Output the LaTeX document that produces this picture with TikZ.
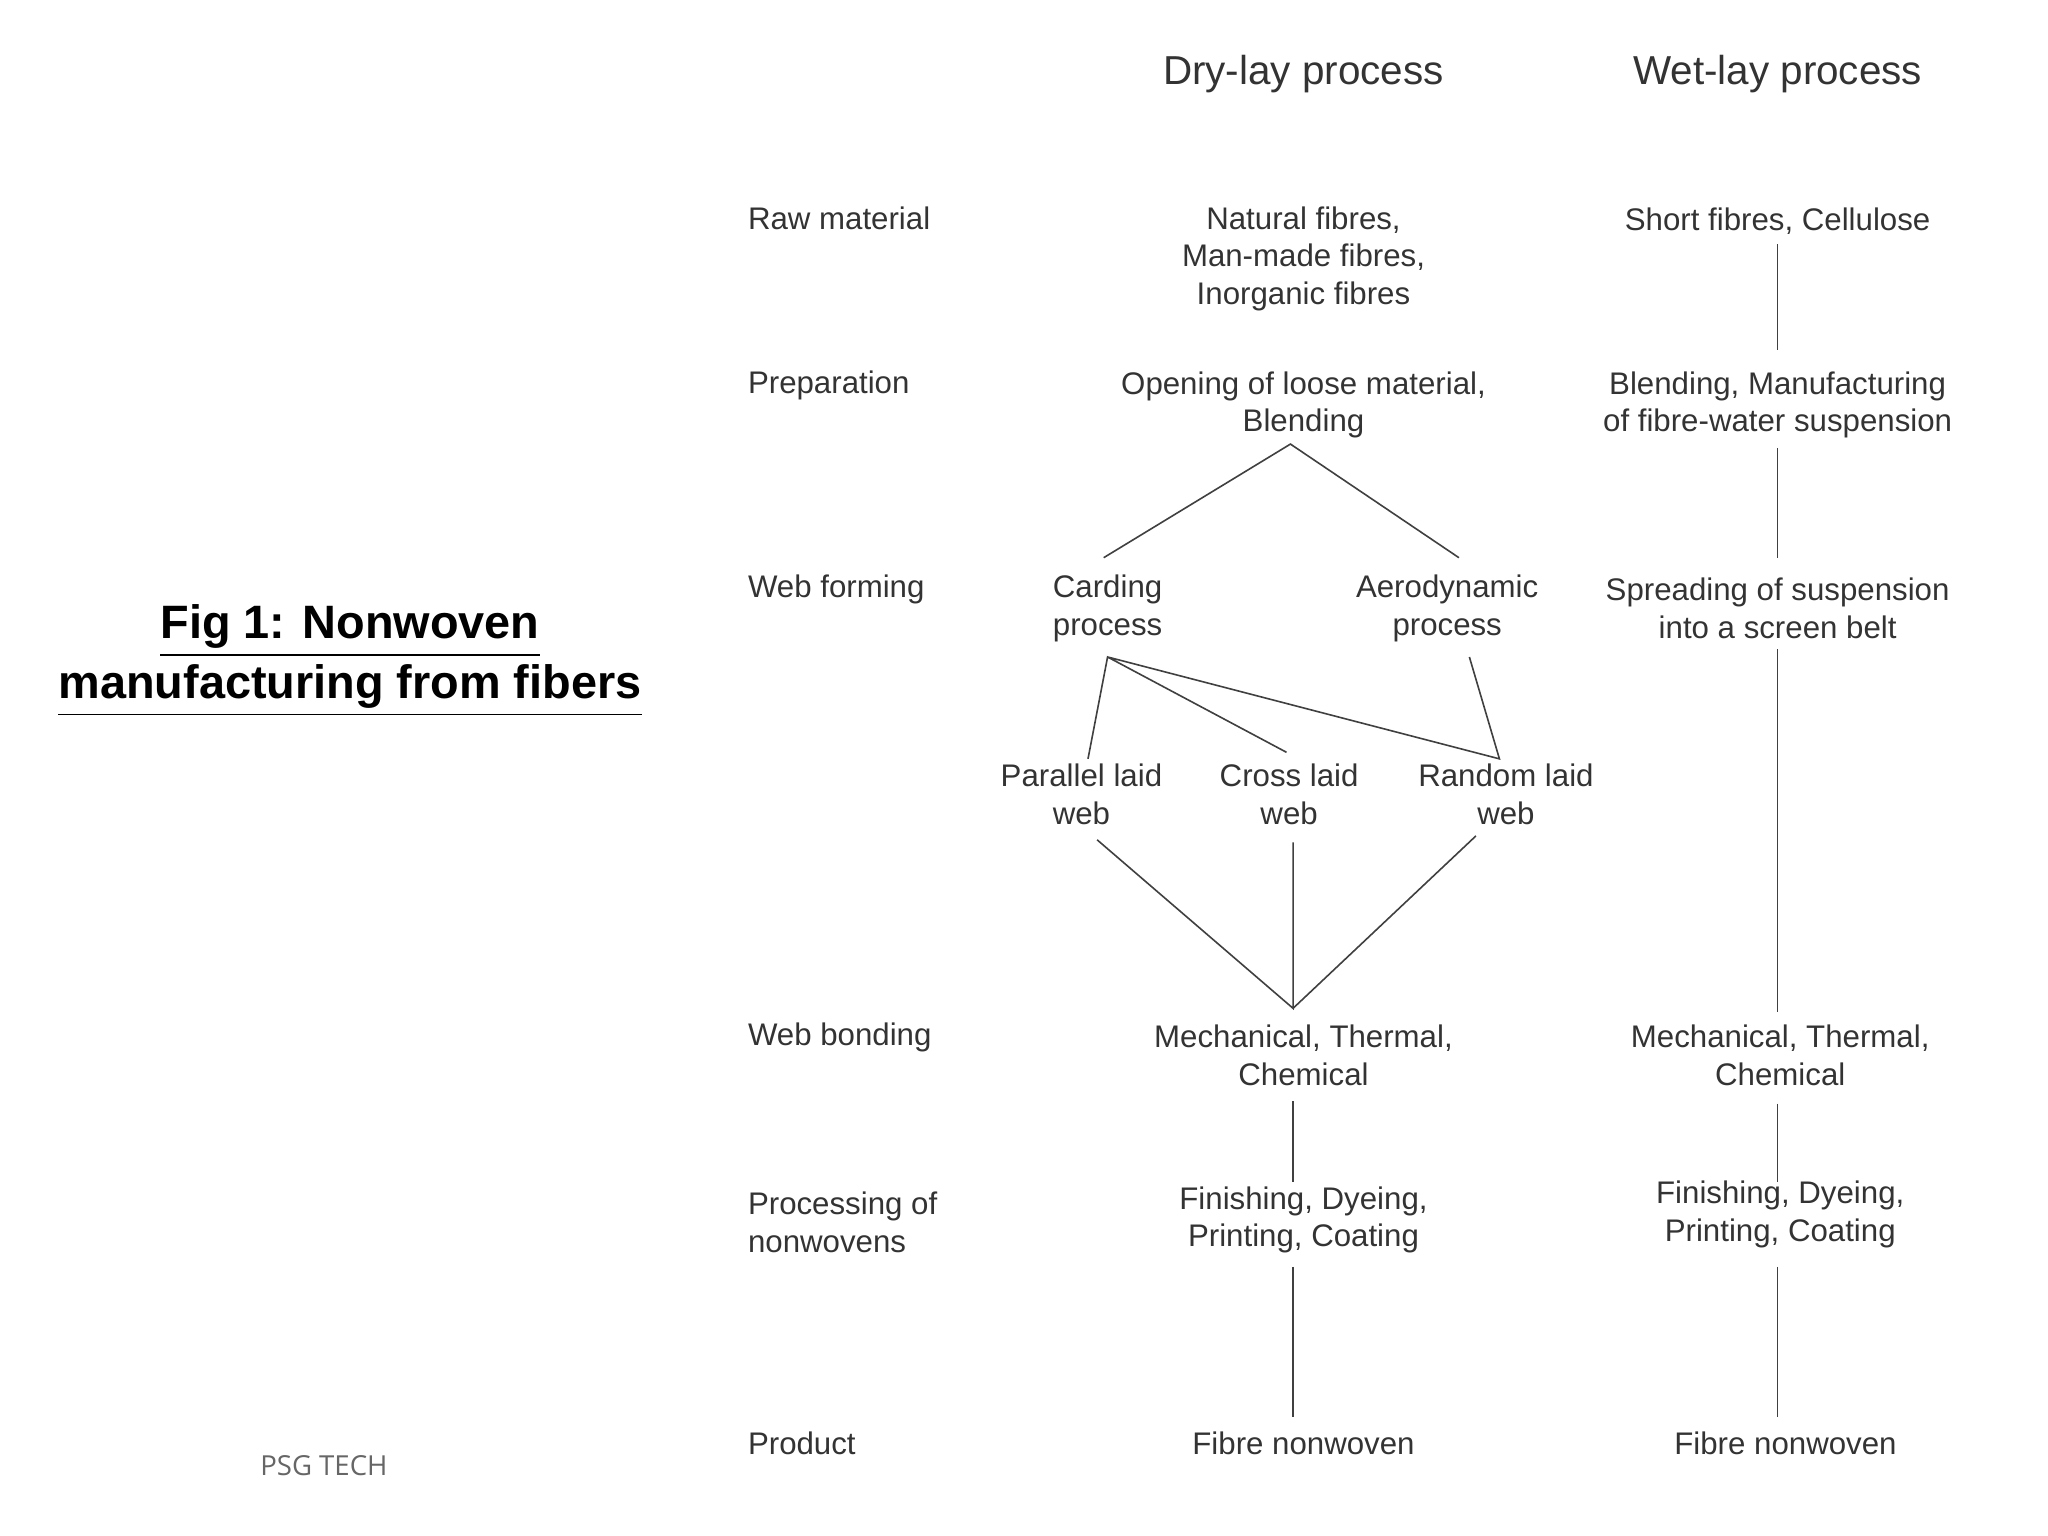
\documentclass[tikz,border=0pt]{standalone}
\usepackage{fontspec}
\setmainfont{Liberation Sans}
\newfontfamily\osans{Open Sans}
\begin{document}
\begin{tikzpicture}[x=0.01cm,y=-0.01cm,
  t/.style={font=\fontsize{6.8}{8.2}\selectfont,text=black!80,align=center,inner sep=0pt},
  lb/.style={t,anchor=west,align=left},
  hd/.style={t,font=\fontsize{8.8}{10}\selectfont},
  ln/.style={draw=black!75,line width=0.35pt}]
\useasboundingbox (0,0) rectangle (1568,1176);
\node[t,font=\bfseries\fontsize{10.2}{12}\selectfont,text=black] (ttl) at (268,506) {\underline{Fig 1: Nonwoven}\\[1pt]\underline{manufacturing from fibers}};
\node[t,font=\osans\fontsize{6}{7}\selectfont,text=black!60] (psg) at (248,1122) {PSG TECH};
\node[hd] (dry) at (998,57) {Dry-lay process};
\node[hd] (wet) at (1361,57) {Wet-lay process};
\node[lb] (l1) at (572,167) {Raw material};
\node[lb] (l2) at (572,295) {Preparation};
\node[lb] (l3) at (572,451) {Web forming};
\node[lb] (l4) at (572,794) {Web bonding};
\node[lb] (l5) at (572,936) {Processing of\\nonwovens};
\node[lb] (l6) at (572,1105) {Product};
\node[t] (draw1) at (998,198) {Natural fibres,\\Man-made fibres,\\Inorganic fibres};
\node[t] (dprep) at (998,310) {Opening of loose material,\\Blending};
\node[t] (card) at (848,466) {Carding\\process};
\node[t] (aero) at (1108,466) {Aerodynamic\\process};
\node[t] (par) at (828,608) {Parallel laid\\web};
\node[t] (cross) at (987,608) {Cross laid\\web};
\node[t] (rand) at (1153,608) {Random laid\\web};
\node[t] (dbond) at (998,808) {Mechanical, Thermal,\\Chemical};
\node[t] (dfin) at (998,934) {Finishing, Dyeing,\\Printing, Coating};
\node[t] (dprod) at (998,1105) {Fibre nonwoven};
\node[t] (wraw) at (1361,169) {Short fibres, Cellulose};
\node[t] (wprep) at (1361,310) {Blending, Manufacturing\\of fibre-water suspension};
\node[t] (spr) at (1361,466) {Spreading of suspension\\into a screen belt};
\node[t] (wbond) at (1363,808) {Mechanical, Thermal,\\Chemical};
\node[t] (wfin) at (1363,930) {Finishing, Dyeing,\\Printing, Coating};
\node[t] (wprod) at (1367,1105) {Fibre nonwoven};
\coordinate (a) at (988,340);
\coordinate (b) at (845,427);
\coordinate (c) at (1117,427);
\coordinate (d) at (848,503);
\coordinate (e) at (833,581);
\coordinate (f) at (985,576);
\coordinate (g) at (1148,581);
\coordinate (h) at (1125,503);
\coordinate (m) at (990,772);
\coordinate (p1) at (840,643);
\coordinate (p2) at (990,645);
\coordinate (p3) at (1130,640);
\draw[ln] (b) -- (a) -- (c);
\draw[ln] (e) -- (d) -- (f) (d) -- (g) -- (h);
\draw[ln] (p1) -- (m) -- (p2) (m) -- (p3);
\coordinate (q1) at (990,843); \coordinate (q2) at (990,905);
\coordinate (q3) at (990,970); \coordinate (q4) at (990,1085);
\draw[ln] (q1) -- (q2) (q3) -- (q4);
\coordinate (w1) at (1361,187); \coordinate (w2) at (1361,268);
\coordinate (w3) at (1361,343); \coordinate (w4) at (1361,427);
\coordinate (w5) at (1361,497); \coordinate (w6) at (1361,775);
\coordinate (w7) at (1361,845); \coordinate (w8) at (1361,905);
\coordinate (w9) at (1361,970); \coordinate (w10) at (1361,1085);
\draw[ln] (w1)--(w2) (w3)--(w4) (w5)--(w6) (w7)--(w8) (w9)--(w10);
\end{tikzpicture}
\end{document}
